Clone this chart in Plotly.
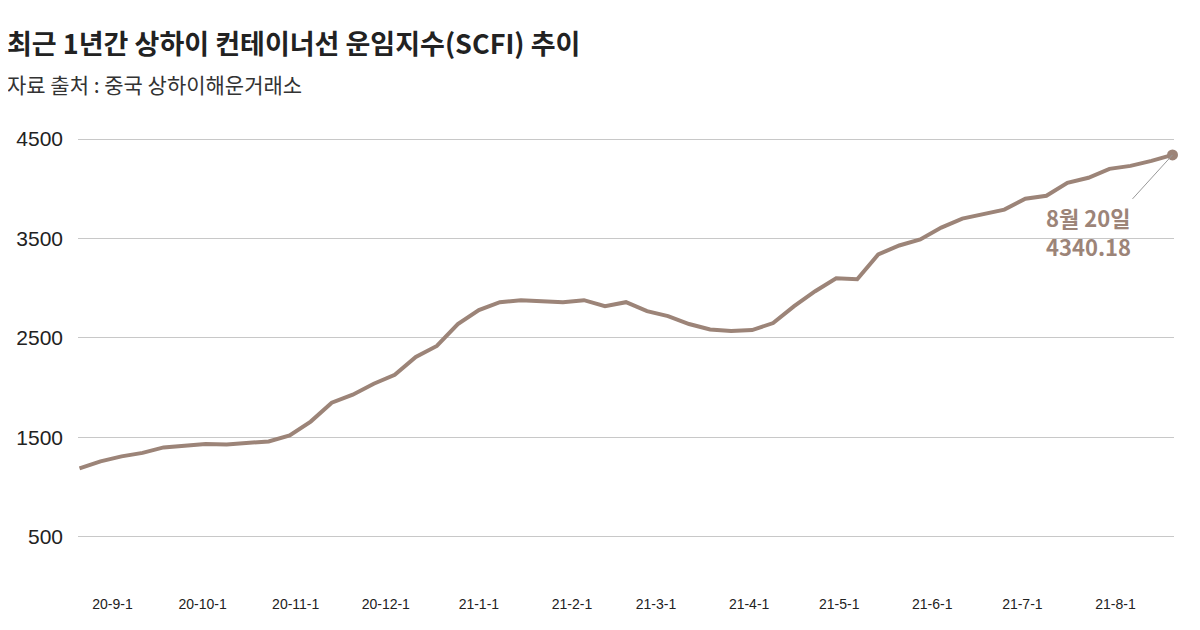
import plotly.graph_objects as go
import pandas as pd

dates = pd.date_range("2020-08-21", "2021-08-20", freq="7D")
values = [1190,1260,1310,1345,1400,1420,1435,1430,1440,1460,1520,1660,1850,1930,2040,2130,2310,2420,2640,2780,
          2860,2880,2870,2860,2880,2820,2860,2770,2720,2640,2585,2570,2580,2650,2820,2970,3100,3090,3340,3430,
          3490,3610,3700,3750,3790,3900,3930,4060,4110,4200,4230,4280,4340.18]
tick_dates = ["2020-09-01","2020-10-01","2020-11-01","2020-12-01","2021-01-01","2021-02-01","2021-03-01",
              "2021-04-01","2021-05-01","2021-06-01","2021-07-01","2021-08-01"]
tick_labels = ["20-9-1","20-10-1","20-11-1","20-12-1","21-1-1","21-2-1","21-3-1","21-4-1","21-5-1","21-6-1","21-7-1","21-8-1"]
y_ticks = [500,1500,2500,3500,4500]
color = "#9c8478"
font = "Noto Sans CJK KR"

L = 70
fig = go.Figure()
fig.add_trace(go.Scatter(x=dates, y=values, mode="lines", line=dict(color=color, width=4), hoverinfo="skip", cliponaxis=False))
fig.add_trace(go.Scatter(x=[dates[-1]], y=[values[-1]], mode="markers", marker=dict(color=color, size=11), hoverinfo="skip", cliponaxis=False))
fig.add_annotation(x=dates[-1], y=values[-1], ax=-40, ay=44, text="<b>8월 20일<br>4340.18</b>", showarrow=True,
                   arrowhead=0, arrowcolor="#999", arrowwidth=1, xanchor="right", yanchor="top", align="left",
                   font=dict(size=22, color=color, family=font))
fig.update_layout(
    width=1200, height=630, paper_bgcolor="white", plot_bgcolor="white", showlegend=False,
    margin=dict(l=L, r=34, t=112, b=68, autoexpand=False),
    font=dict(family=font, color="#222"),
    xaxis=dict(range=[dates[0]-pd.Timedelta(days=0.5), dates[-1]+pd.Timedelta(days=0.5)], tickvals=tick_dates, ticktext=tick_labels,
               showgrid=False, zeroline=False, showline=False, automargin=False,
               tickfont=dict(size=14, family="Liberation Sans"), ticklen=0, ticklabelstandoff=24),
    yaxis=dict(range=[168,4691], tickvals=y_ticks, showgrid=True, gridcolor="#c8c8c8", gridwidth=1, zeroline=False, automargin=False,
               tickfont=dict(size=21, family="Liberation Sans"), ticklen=0, ticklabelstandoff=14),
)
pw = 1200 - L - 34
fig.add_annotation(xref="paper", yref="paper", x=-L/pw, y=1.0, yshift=78, xshift=-3, xanchor="left", yanchor="middle", showarrow=False,
                   text="<b>최근 1년간 상하이 컨테이너선 운임지수(SCFI) 추이</b>", font=dict(size=27, color="#222", family=font))
fig.add_annotation(xref="paper", yref="paper", x=-L/pw, y=1.0, yshift=36, xshift=-3, xanchor="left", yanchor="middle", showarrow=False,
                   text="자료 출처 : 중국 상하이해운거래소", font=dict(size=21, color="#333", family=font))
fig.write_html("out.html")
